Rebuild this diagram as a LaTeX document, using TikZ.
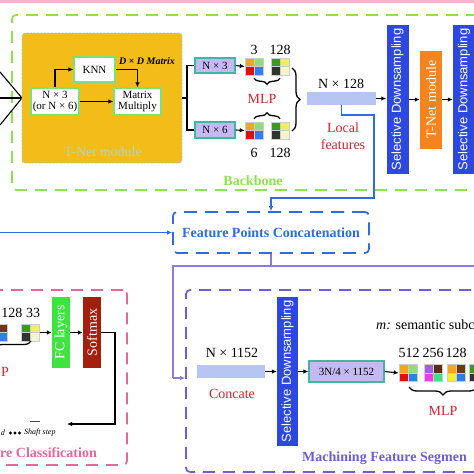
\documentclass[tikz,border=0pt]{standalone}
\usepackage{fontspec}
\setmainfont{Liberation Serif}
\setsansfont{Liberation Sans}
\usetikzlibrary{arrows.meta,decorations.pathreplacing,calc}
\definecolor{toppink}{HTML}{F3B6CB}
\definecolor{pinkc}{HTML}{E4689C}
\definecolor{bbgreen}{HTML}{8FE34A}
\definecolor{tyellow}{HTML}{F2BC19}
\definecolor{tcyan}{HTML}{8ED6E4}
\definecolor{tnetlbl}{HTML}{A8D8C4}
\definecolor{ingreen}{HTML}{7FE07A}
\definecolor{lav}{HTML}{C6B8F2}
\definecolor{tealc}{HTML}{3FB8A0}
\definecolor{barblue}{HTML}{B7C5F2}
\definecolor{sdblue}{HTML}{2D48E0}
\definecolor{tnorange}{HTML}{F5841F}
\definecolor{fpblue}{HTML}{2F6CE0}
\definecolor{segpurp}{HTML}{6E5CDB}
\definecolor{purpline}{HTML}{8A7BE0}
\definecolor{fcgreen}{HTML}{3FE33F}
\definecolor{smred}{HTML}{A5200C}
\definecolor{redtxt}{HTML}{D42430}
\definecolor{cO}{HTML}{F5A51F}
\definecolor{cLG}{HTML}{8FE070}
\definecolor{cR}{HTML}{E00E0E}
\definecolor{cB}{HTML}{2E7FE6}
\definecolor{cDG}{HTML}{3C9A1E}
\definecolor{cY}{HTML}{F2F05A}
\definecolor{cDK}{HTML}{333333}
\definecolor{cCr}{HTML}{F4F4D2}
\definecolor{cP}{HTML}{A25FE8}
\definecolor{cDB}{HTML}{5A2E12}
\definecolor{cM}{HTML}{E63FE6}
\definecolor{cG2}{HTML}{3FE07F}
\definecolor{cBr}{HTML}{6E3A14}
\definecolor{cY2}{HTML}{F2EE3A}
\tikzset{
  lbl/.style={font=\fontsize{14}{16}\selectfont, inner sep=0pt},
  redlbl/.style={lbl, text=redtxt},
  arr/.style={-{Latex[length=5pt,width=4.5pt]}, line width=1.1pt},
  ln/.style={line width=1.1pt},
  inbox/.style={draw=ingreen, line width=1.3pt, fill=white, align=center, font=\fontsize{11}{11.5}\selectfont, inner sep=0pt},
  lavbox/.style={draw=tealc, line width=1.2pt, fill=lav, font=\fontsize{11}{12}\selectfont, inner sep=0pt},
  sdbox/.style={fill=sdblue, text=white, font=\sffamily\fontsize{13}{14}\selectfont, rotate=90, minimum width=149pt, minimum height=22pt, inner sep=0pt},
  vbox/.style={text=white, font=\fontsize{14}{15}\selectfont, rotate=90, minimum width=71pt, minimum height=18pt, inner sep=0pt},
  mybrace/.style={decorate, decoration={brace, amplitude=#1}, line width=1.3pt},
  cg/.style n args={4}{rectangle, minimum width=18pt, minimum height=17pt, inner sep=0pt, draw=gray!40, line width=0.4pt,
    path picture={
      \fill[#1] (path picture bounding box.north west) rectangle (path picture bounding box.center);
      \fill[#2] (path picture bounding box.north east) rectangle (path picture bounding box.center);
      \fill[#3] (path picture bounding box.south west) rectangle (path picture bounding box.center);
      \fill[#4] (path picture bounding box.south east) rectangle (path picture bounding box.center);
      \draw[gray!40, line width=0.5pt] (path picture bounding box.north) -- (path picture bounding box.south)
        (path picture bounding box.west) -- (path picture bounding box.east);
    }},
  dashbox/.style={line width=1.7pt, dash pattern=on 12pt off 8pt, rounded corners=4pt},
}
\begin{document}
\begin{tikzpicture}[x=1pt,y=-1pt]
\useasboundingbox (0,0) rectangle (474,474);
\fill[white] (0,0) rectangle (474,474);
\clip (0,0) rectangle (474,474);

% top pink line
\draw[toppink, line width=2.6pt] (-5,1.2) -- (480,1.2);

% Backbone box
\node[draw=bbgreen, dashbox, minimum width=490pt, minimum height=175pt] (bb) at (257,102.5) {};
\node[font=\bfseries\fontsize{14}{16}\selectfont, text=bbgreen, inner sep=0pt] (bbl) at (253,181) {Backbone};

% left chevron
\coordinate (chA) at (0,72);
\coordinate (chB) at (0,125);
\coordinate (chC) at (0,98);
\coordinate (chT) at (22,98);
\draw[ln] (chA) -- (chT) -- (chB);
\draw[ln] (chC) -- (chT);

% T-Net module
\node[fill=tyellow, draw=tcyan, line width=0.8pt, dash pattern=on 2pt off 1.5pt, rounded corners=3pt, minimum width=160pt, minimum height=130pt, inner sep=0pt] (tnet) at (102,98) {};
\node[text=tnetlbl, font=\fontsize{14}{16}\selectfont] (tnl) at (103,152) {T-Net module};
\node[inbox, minimum width=48pt, minimum height=27pt] (nin) at (55,101.5) {N × 3\\(or N × 6)};
\node[inbox, minimum width=41pt, minimum height=25pt] (knn) at (94.5,69.5) {KNN};
\node[inbox, minimum width=47pt, minimum height=27pt] (mm) at (137.5,101.5) {Matrix\\Multiply};
\node[font=\bfseries\itshape\fontsize{10}{12}\selectfont, inner sep=0pt] (ddm) at (147,61) {D × D Matrix};
\draw[arr] (nin.north) |- (knn.west);
\draw[arr] (knn.east) -| (mm.north);
\draw[arr] (nin.east) -- (mm.west);

% branches
\coordinate (br) at (187,98);
\node[lavbox, minimum width=40pt, minimum height=15pt] (n3) at (215,65.5) {N × 3};
\node[lavbox, minimum width=40pt, minimum height=16pt] (n6) at (215,130) {N × 6};
\draw[ln] (tnet.east) -- (br);
\draw[ln] (br) |- (n3.west);
\draw[ln] (br) |- (n6.west);

\node[cg={cO}{cLG}{cR}{cB}] (g1) at (254,66.5) {};
\node[cg={cDG}{cY}{cDK}{cCr}] (g2) at (280,66.5) {};
\node[cg={cO}{cLG}{cR}{cB}] (g3) at (254,130.5) {};
\node[cg={cDG}{cY}{cDK}{cCr}] (g4) at (280,130.5) {};
\draw[arr] (n3.east) -- (g1.west);
\draw[arr] (n6.east) -- (g3.west);
\node[lbl] (l3) at (254,50) {3};
\node[lbl] (l128a) at (280,50) {128};
\node[lbl] (l6) at (254,153) {6};
\node[lbl] (l128b) at (280,153) {128};
\draw[mybrace=6pt, decoration={mirror}] ($(g1.south)+(0,3)$) -- ($(g2.south)+(0,3)$);
\draw[mybrace=6pt] ($(g3.north)+(0,-3)$) -- ($(g4.north)+(0,-3)$);
\draw[mybrace=8pt] (292,68) -- (292,131);
\node[redlbl] (mlp1) at (262,99) {MLP};

% N x 128
\node[fill=barblue, minimum width=69pt, minimum height=13pt, inner sep=0pt] (b128) at (341.5,98.5) {};
\node[lbl] (n128) at (341,84) {N × 128};
\node[sdbox] (sd1) at (397.5,99.5) {Selective Downsampling};
\node[fill=tnorange, text=white, font=\fontsize{14}{15}\selectfont, rotate=90, minimum width=98pt, minimum height=22pt, inner sep=0pt] (tnm) at (431,99.5) {T-Net module};
\node[sdbox] (sd2) at (464,99.5) {Selective Downsampling};
\draw[arr] (b128.east) -- (b128.east -| sd1.north);
\draw[arr] (sd1.south) -- (tnm.north);
\draw[arr] (tnm.south) -- (sd2.north);
\node[redlbl, align=center, font=\fontsize{14}{17}\selectfont] (lf) at (343,136) {Local\\features};

% Feature points concatenation
\node[draw=fpblue, dashbox, dash pattern=on 13pt off 8pt, minimum width=196pt, minimum height=41pt, text=fpblue, font=\bfseries\fontsize{14}{16}\selectfont] (fpc) at (271,232.5) {Feature Points Concatenation};
\coordinate (lin) at (0,232.5);
\draw[arr, fpblue] (lin) -- (fpc.west);
\draw[arr, fpblue] (b128.south) -- (341.5,115) -- (374,115) -- (374,198) -- (271,198) -- (fpc.north);

% Segmentation box
\node[draw=segpurp, dashbox, minimum width=309pt, minimum height=182pt] (seg) at (340.5,381) {};
\node[anchor=west, text=segpurp, font=\bfseries\fontsize{14}{16}\selectfont, inner sep=0pt] (segl) at (302,458) {Machining Feature Segmen};
\coordinate (pr) at (480,266);
\coordinate (pj) at (271,266);
\draw[ln, purpline] (fpc.south) -- (pj);
\draw[ln, purpline] (pr) -- (173,266) -- (173,378);
\draw[arr, purpline] (173,378) -- ($(seg.west)+(0,-3)$);

\node[fill=barblue, minimum width=68pt, minimum height=13pt, inner sep=0pt] (b1152) at (231,371.5) {};
\node[lbl] (n1152) at (232,353) {N × 1152};
\node[redlbl] (conc) at (232,394) {Concate};
\node[sdbox, minimum height=21pt] (sd3) at (287.5,371.5) {Selective Downsampling};
\draw[arr] (b1152.east) -- (sd3.north);
\node[lavbox, minimum width=75pt, minimum height=21pt] (b34) at (346.5,371.5) {3N/4 × 1152};
\draw[arr] (sd3.south) -- (b34.west);
\node[cg={cO}{cLG}{cR}{cB}] (gA) at (408,373) {};
\node[cg={cP}{cDB}{cM}{cG2}] (gB) at (433,373) {};
\node[cg={cO}{cBr}{cY2}{cB}] (gC) at (456,373) {};
\node[cg={cDG}{cY}{cDK}{cCr}] (gD) at (478,373) {};
\draw[arr] (b34.east) -- (gA.west);
\node[lbl] (l512) at (409,353) {512};
\node[lbl] (l256) at (433,353) {256};
\node[lbl] (l128c) at (456,353) {128};
\draw[mybrace=8pt, decoration={mirror}] (409,387) -- (477,387);
\node[redlbl] (mlp2) at (443,411) {MLP};
\node[lbl, anchor=west] (msem) at (376,325) {\textit{m:} semantic subc};

% Classification box
\node[draw=pinkc, dashbox, minimum width=147pt, minimum height=175pt] (cls) at (53.5,377.5) {};
\node[anchor=east, text=pinkc, font=\bfseries\fontsize{14}{16}\selectfont, inner sep=0pt] (clsl) at (97,453) {re Classification};
\node[cg={cO}{cBr}{cY2}{cB}] (gE) at (-2,332.5) {};
\node[cg={cDG}{cY}{cDK}{cCr}] (gF) at (30.5,332.5) {};
\node[lbl] (l128d) at (12,313) {128};
\node[lbl] (l33) at (33,313) {33};
\draw[mybrace=7pt, decoration={mirror}] (-40,341) -- (31,341);
\node[redlbl, anchor=east] (mlp3) at (9,372) {P};
\node[vbox, fill=fcgreen] (fc) at (61,332.5) {FC layers};
\node[vbox, fill=smred] (sm) at (92,332.5) {Softmax};
\draw[arr] (gF.east) -- (fc.north);
\draw[arr] (fc.south) -- (sm.north);
\coordinate (ret) at (67,424);
\draw[arr] (sm.south) -- (115,332.5) -- (115,424) -- (ret);
\coordinate (lgA) at (30,421);
\coordinate (lgB) at (40,421);
\draw[line width=1pt, gray!60!black] (lgA) -- (lgB);
\node[font=\itshape\fontsize{8}{9}\selectfont, inner sep=0pt] (lgd) at (3,433) {d};
\fill (10.5,433) circle (1.7pt) (15,433) circle (1.7pt) (19.5,433) circle (1.7pt);
\node[anchor=west, font=\itshape\fontsize{8}{9}\selectfont, inner sep=0pt] (lgs) at (24,433) {Shaft step};
\end{tikzpicture}
\end{document}
